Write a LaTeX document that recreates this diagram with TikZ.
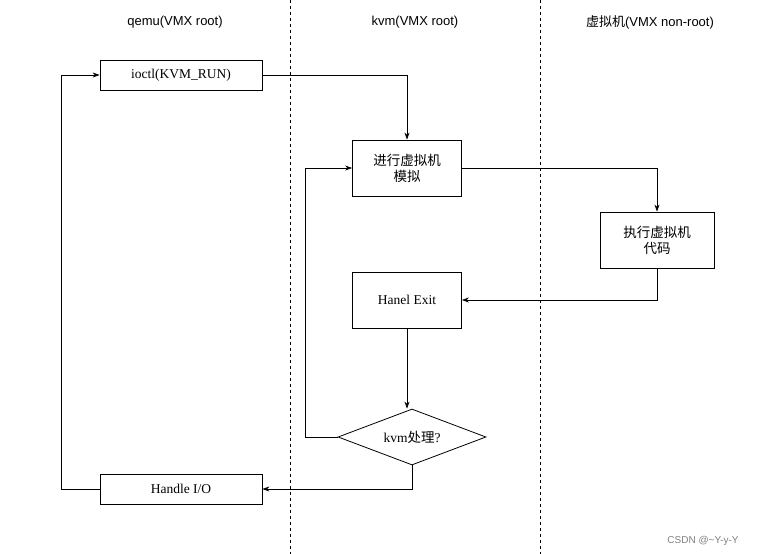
\documentclass[tikz,border=0pt]{standalone}
\usepackage{fontspec}
\setmainfont{Liberation Serif}
\newfontfamily\hdr{Liberation Sans}
\newfontfamily\cjk{Noto Sans CJK SC}
\usetikzlibrary{shapes.geometric,arrows.meta}
\begin{document}
\begin{tikzpicture}[x=1pt,y=-1pt,
  box/.style={draw,thick,minimum width=#1,align=center,font=\fontsize{13.5}{16}\selectfont,inner sep=0pt},
  box/.default=110pt,
  arr/.style={-{Stealth[length=7pt,width=5pt]},semithick},
  head/.style={font=\hdr\fontsize{13}{15}\selectfont}]
\useasboundingbox (0,0) rectangle (763,554);
% lanes
\draw[dashed] (290,0) -- (290,554);
\draw[dashed] (540,0) -- (540,554);
\node[head] (h1) at (175,22) {qemu(VMX root)};
\node[head] (h2) at (415,22) {kvm(VMX root)};
\node[head] (h3) at (650,22) {{\cjk 虚拟机}(VMX non-root)};
% nodes
\node[box=162pt,minimum height=30pt] (ioctl) at (181,75) {ioctl(KVM\_RUN)};
\node[box=109pt,minimum height=56pt] (emu) at (407,168) {\cjk 进行虚拟机\\\cjk 模拟};
\node[box=114pt,minimum height=56pt] (exec) at (657,240) {\cjk 执行虚拟机\\\cjk 代码};
\node[box=109pt,minimum height=56pt] (exit) at (407,300) {Hanel Exit};
\node[draw,thick,diamond,aspect=2.6,minimum width=148pt,minimum height=56pt,inner sep=0pt,font=\fontsize{13.5}{16}\selectfont] (kvm) at (412,437) {kvm{\cjk 处理}?};
\node[box=162pt,minimum height=30pt] (io) at (181,489) {Handle I/O};
% connectors
\draw[arr] (ioctl.east) -| (emu.north);
\draw[arr] (emu.east) -| (exec.north);
\draw[arr] (exec.south) |- (exit.east);
\draw[arr] (exit.south) -- (exit.south |- kvm.north);
\draw[arr] (kvm.west) -- ++(-32,0) |- (emu.west);
\draw[arr] (kvm.south) |- (io.east);
\draw[arr] (io.west) -- ++(-38,0) |- (ioctl.west);
\node[font=\hdr\fontsize{10}{11}\selectfont,text=gray] (wm) at (703,541) {CSDN @\textasciitilde Y-y-Y};
\end{tikzpicture}
\end{document}
